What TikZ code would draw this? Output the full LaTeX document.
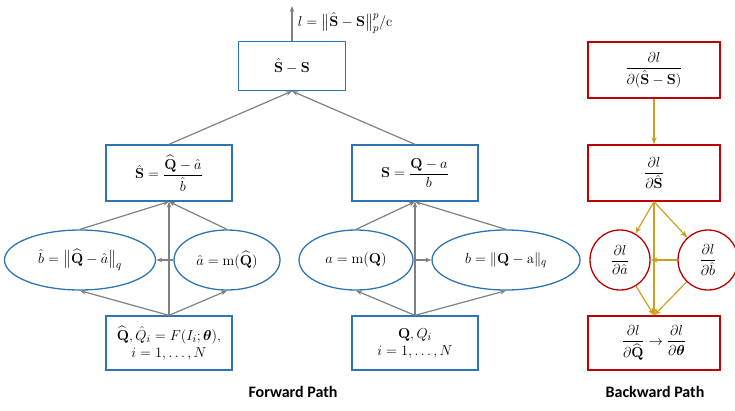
\documentclass[tikz,border=0pt]{standalone}
\usepackage{amsmath,bm}
\usepackage[no-math]{fontspec}
\setmainfont{Carlito}
\usetikzlibrary{arrows.meta,shapes.geometric}
\definecolor{fb}{HTML}{2E75B6}
\definecolor{rb}{HTML}{C00000}
\definecolor{gd}{HTML}{C9A020}
\begin{document}
\begin{tikzpicture}[x=1pt,y=-1pt,font=\fontsize{15}{17}\selectfont,
 fbox/.style={draw=fb,line width=1.3pt,minimum width=126pt,minimum height=56pt,inner sep=1pt},
 fell/.style={draw=fb,line width=1.3pt,ellipse,minimum height=60pt,inner sep=0pt},
 bbox/.style={draw=rb,line width=1.3pt,minimum width=132pt,minimum height=56pt,inner sep=1pt},
 bcirc/.style={draw=rb,line width=1.3pt,circle,minimum size=60pt,inner sep=0pt},
 ga/.style={draw=gray,line width=1.2pt,-{Stealth[length=6pt]}},
 ya/.style={draw=gd,line width=1.2pt,-{Stealth[length=7pt]}}]
\useasboundingbox (0,0) rectangle (735,410);
\node[fbox,minimum width=107pt,minimum height=49pt] (top) at (292,66) {$\hat{\mathbf S}-\mathbf S$};
\node[fbox] (sh) at (169,173) {$\hat{\mathbf S}=\dfrac{\widehat{\mathbf Q}-\hat a}{\hat b}$};
\node[fbox] (s) at (415,173) {$\mathbf S=\dfrac{\mathbf Q-a}{b}$};
\node[fell,minimum width=151pt] (bh) at (80,260) {$\hat b=\big\|\widehat{\mathbf Q}-\hat a\big\|_q$};
\node[fell,minimum width=106pt] (ah) at (227,260) {$\hat a=\mathrm m(\widehat{\mathbf Q})$};
\node[fell,minimum width=114pt] (a) at (356,260) {$a=\mathrm m(\mathbf Q)$};
\node[fell,minimum width=148pt] (b) at (506,260) {$b=\|\mathbf Q-\mathrm a\|_q$};
\node[fbox,align=center,minimum height=54pt] (ql) at (169,343) {$\widehat{\mathbf Q},\hat Q_i=F(I_i;\bm\theta),$\\$i=1,\ldots,N$};
\node[fbox,align=center,minimum height=54pt] (qr) at (415,343) {$\mathbf Q,Q_i$\\$i=1,\ldots,N$};
\coordinate (lt) at (292,6);
\draw[ga] (top) -- (lt) node[pos=0.5,right=2pt] {$l=\big\|\hat{\mathbf S}-\mathbf S\big\|_p^p/\mathrm c$};
\draw[ga] (sh.north) -- (top.south);
\draw[ga] (s.north) -- (top.south);
\foreach \e/\t in {bh/sh,ah/sh,a/s,b/s}{\draw[ga] (\e.north) -- (\t.south);}
\draw[ga] (ql.north) -- (sh.south);
\draw[ga] (qr.north) -- (s.south);
\draw[ga] (ql.north) -- (bh.south);
\draw[ga] (ql.north) -- (ah.south);
\draw[ga] (qr.north) -- (a.south);
\draw[ga] (qr.north) -- (b.south);
\draw[ga] (ah) -- (bh);
\draw[ga] (a) -- (b);
\node[bbox] (b1) at (654,70) {$\dfrac{\partial l}{\partial(\hat{\mathbf S}-\mathbf S)}$};
\node[bbox] (b2) at (654,173) {$\dfrac{\partial l}{\partial\hat{\mathbf S}}$};
\node[bcirc] (ca) at (620,260) {$\dfrac{\partial l}{\partial\hat a}$};
\node[bcirc] (cb) at (708,260) {$\dfrac{\partial l}{\partial\hat b}$};
\node[bbox,minimum height=54pt] (b3) at (654,343) {$\dfrac{\partial l}{\partial\widehat{\mathbf Q}}\rightarrow\dfrac{\partial l}{\partial\bm\theta}$};
\draw[ya] (b1) -- (b2);
\draw[ya] (b2.south) -- (ca);
\draw[ya] (b2.south) -- (cb);
\draw[ya] (b2.south) -- (b3.north);
\draw[ya] (ca) -- (b3.north);
\draw[ya] (cb) -- (b3.north);
\draw[ya] (cb) -- (ca);
\node (fp) at (293,392) {\fontsize{16}{19}\selectfont\bfseries Forward Path};
\node (bp) at (655,392) {\fontsize{16}{19}\selectfont\bfseries Backward Path};
\end{tikzpicture}
\end{document}
